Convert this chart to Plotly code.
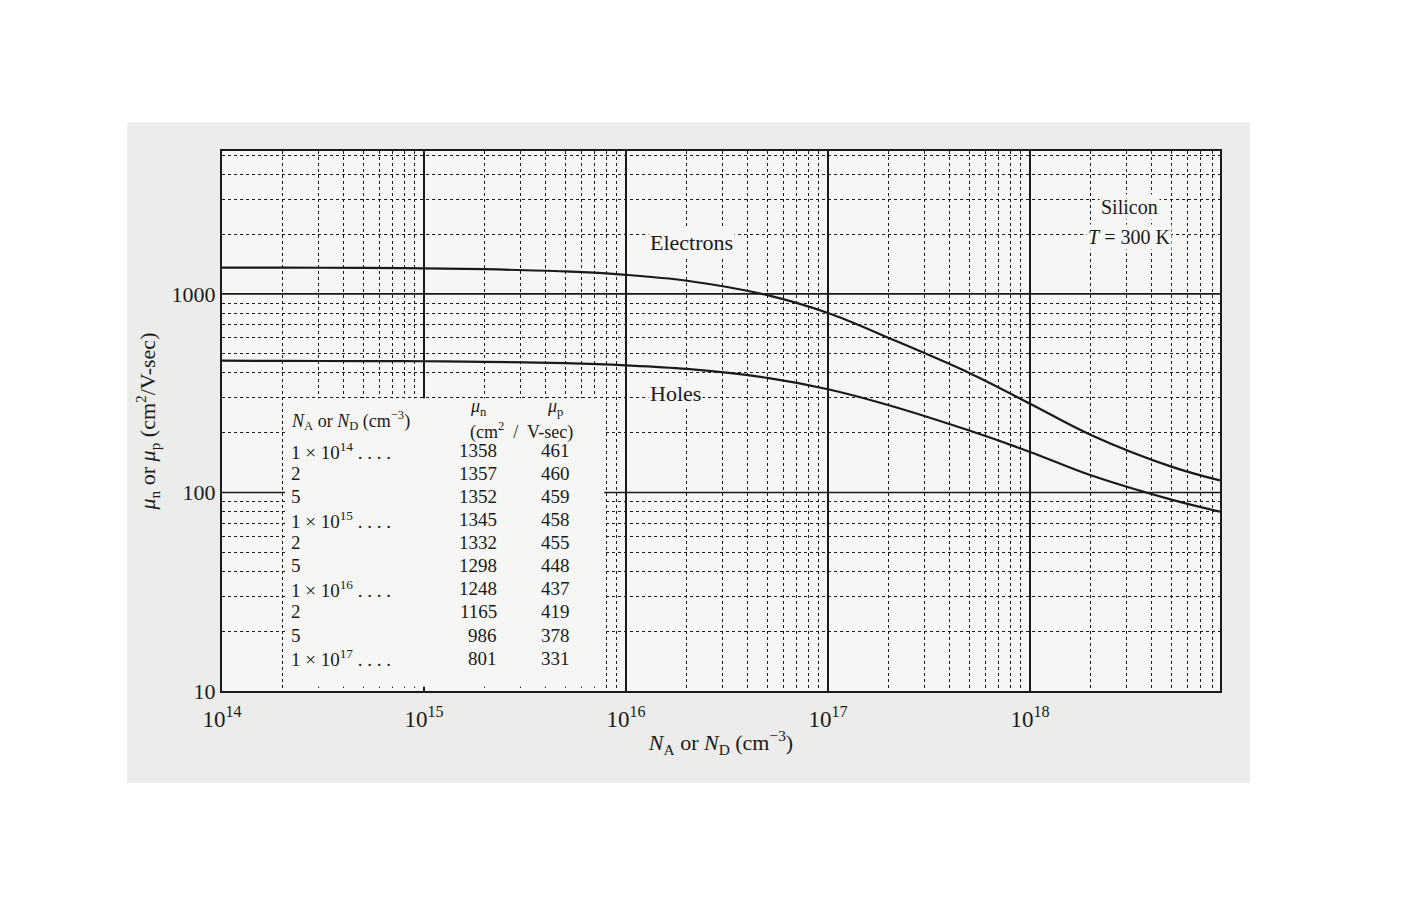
import plotly.graph_objects as go

dop = [1e14, 2e14, 5e14, 1e15, 2e15, 5e15, 1e16, 2e16, 5e16, 1e17,
       2e17, 5e17, 1e18, 2e18, 5e18, 8.7e18]
mu_n = [1358, 1357, 1352, 1345, 1332, 1298, 1248, 1165, 986, 801,
        600, 400, 280, 195, 135, 115]
mu_p = [461, 460, 459, 458, 455, 448, 437, 419, 378, 331,
        275, 205, 160, 122, 92, 80]

tbl_conc = ["1 × 10<sup>14</sup> . . . .", "2", "5", "1 × 10<sup>15</sup> . . . .", "2", "5",
            "1 × 10<sup>16</sup> . . . .", "2", "5", "1 × 10<sup>17</sup> . . . ."]
tbl_n = [1358, 1357, 1352, 1345, 1332, 1298, 1248, 1165, 986, 801]
tbl_p = [461, 460, 459, 458, 455, 448, 437, 419, 378, 331]

serif = "Liberation Serif"
ink = "#1a1a1a"
page = "#f6f6f4"

fig = go.Figure()
fig.add_trace(go.Scatter(x=dop, y=mu_n, mode="lines", line=dict(color=ink, width=2.2, shape="spline")))
fig.add_trace(go.Scatter(x=dop, y=mu_p, mode="lines", line=dict(color=ink, width=2.2, shape="spline")))

xminor = [m * 10 ** e for e in range(14, 19) for m in range(2, 10)]
yminor = [m * 10 ** e for e in range(1, 4) for m in range(2, 10)]

# page background (photo of the book page)
fig.add_shape(type="rect", xref="paper", yref="paper", x0=-0.095, x1=1.03, y0=-0.17, y1=1.053,
              fillcolor="#ececea", line_width=0, layer="below")
fig.add_shape(type="rect", xref="paper", yref="paper", x0=0, x1=1, y0=0, y1=1,
              fillcolor=page, line_width=0, layer="below")
# heavier lines at 100 and 1000
fig.add_shape(type="line", xref="paper", yref="y", x0=0, x1=1, y0=1000, y1=1000, line=dict(color=ink, width=1.4), layer="below")
fig.add_shape(type="line", xref="paper", yref="y", x0=0, x1=1, y0=100, y1=100, line=dict(color=ink, width=1.4), layer="below")
# blank box behind the table
fig.add_shape(type="rect", xref="x", yref="y", x0=2.05e14, x1=7.8e15, y0=10.5, y1=298,
              fillcolor=page, line_width=0, layer="above")

ann = []
def t(x, y, s, size=19, xa="left", bg=None):
    # annotation positions as log10 values
    ann.append(dict(x=x, y=y, xref="x", yref="y", text=s, showarrow=False, bgcolor=bg,
                    xanchor=xa, font=dict(family=serif, size=size, color=ink)))

t(16.11, 3.26, "Electrons", 22, bg=page)
t(16.11, 2.5, "Holes", 22, bg=page)
t(18.49, 3.44, "Silicon", 20, "center", bg=page)
t(18.49, 3.285, "<i>T</i> = 300 K", 20, "center", bg=page)
t(14.33, 2.365, "<i>N</i><sub>A</sub> or <i>N</i><sub>D</sub> (cm<sup>−3</sup>)", 18)
t(15.27, 2.43, "<i>μ</i><sub>n</sub>", 18, "center")
t(15.48, 2.31, "(cm<sup>2</sup>  /  V-sec)", 18, "center")
t(15.65, 2.43, "<i>μ</i><sub>p</sub>", 18, "center")
rows_y = [2.21 - 0.116 * i for i in range(10)]
for yy, c, n, p in zip(rows_y, tbl_conc, tbl_n, tbl_p):
    t(14.33, yy, c, 19)
    t(15.37, yy, str(n), 19, "right")
    t(15.65, yy, str(p), 19, "center")
fig.update_layout(annotations=ann)

fig.update_xaxes(type="log", range=[14, 18.94], showline=True, linecolor=ink, linewidth=2, mirror=True,
                 tickvals=[1e14, 1e15, 1e16, 1e17, 1e18],
                 ticktext=["10<sup>14</sup>", "10<sup>15</sup>", "10<sup>16</sup>", "10<sup>17</sup>", "10<sup>18</sup>"],
                 tickfont=dict(family=serif, size=23, color=ink), ticks="", ticklabelstandoff=6,
                 showgrid=True, gridcolor=ink, gridwidth=1.5,
                 minor=dict(tickvals=xminor, showgrid=True, gridcolor=ink, griddash="dot", gridwidth=1),
                 title=dict(text="<i>N</i><sub>A</sub> or <i>N</i><sub>D</sub> (cm<sup>−3</sup>)",
                            font=dict(family=serif, size=22, color=ink), standoff=4))
fig.update_yaxes(type="log", range=[1, 3.72], showline=True, linecolor=ink, linewidth=2, mirror=True,
                 tickvals=[10, 100, 1000], ticktext=["10", "100", "1000"],
                 tickfont=dict(family=serif, size=22, color=ink), ticks="",
                 showgrid=True, gridcolor=ink, gridwidth=1.2,
                 minor=dict(tickvals=yminor, showgrid=True, gridcolor=ink, griddash="dot", gridwidth=1),
                 title=dict(text="<i>μ</i><sub>n</sub> or <i>μ</i><sub>p</sub> (cm<sup>2</sup>/V-sec)",
                            font=dict(family=serif, size=22, color=ink), standoff=10))

fig.update_layout(width=1418, height=920, showlegend=False, paper_bgcolor="white",
                  plot_bgcolor="rgba(0,0,0,0)",
                  margin=dict(l=214, r=206, t=143, b=237))

fig.write_html("out.html")
